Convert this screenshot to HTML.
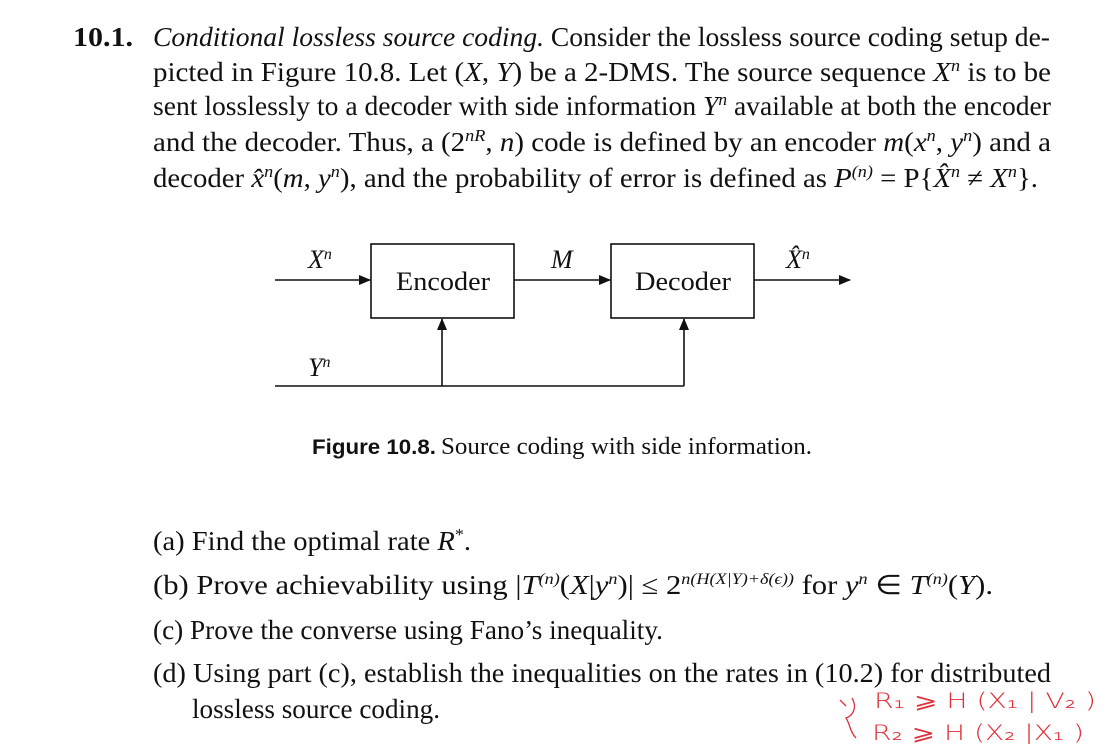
<!DOCTYPE html>
<html><head><meta charset="utf-8"><style>
html,body{margin:0;padding:0;background:#fff;}
svg{display:block;}
text{font-family:"Liberation Serif",serif;fill:#111;}
.s{font-family:"Liberation Sans",sans-serif;font-weight:bold;}
.i{font-style:italic;}
.h{font-family:"DejaVu Sans",sans-serif;fill:#e0303a;font-weight:200;}
</style></head><body>
<svg width="1116" height="744" viewBox="0 0 1116 744" xmlns="http://www.w3.org/2000/svg">
<defs><marker id="a" markerWidth="12" markerHeight="10" refX="11" refY="5" orient="auto" markerUnits="userSpaceOnUse"><path d="M0,0 L12,5 L0,10 z" fill="#111"/></marker></defs>
<g font-size="27">
<text x="73" y="46" font-weight="bold" textLength="60" lengthAdjust="spacingAndGlyphs">10.1.</text>
<text x="153" y="46" textLength="897" lengthAdjust="spacingAndGlyphs"><tspan class="i">Conditional lossless source coding.</tspan> Consider the lossless source coding setup de-</text>
<text x="153" y="81" textLength="898" lengthAdjust="spacingAndGlyphs">picted in Figure 10.8. Let (<tspan class="i">X</tspan>, <tspan class="i">Y</tspan>) be a 2-DMS. The source sequence <tspan class="i">X</tspan><tspan class="i" font-size="17" dy="-10">n</tspan><tspan dy="10"> is to be</tspan></text>
<text x="153" y="115" textLength="898" lengthAdjust="spacingAndGlyphs">sent losslessly to a decoder with side information <tspan class="i">Y</tspan><tspan class="i" font-size="17" dy="-10">n</tspan><tspan dy="10"> available at both the encoder</tspan></text>
<text x="153" y="151" textLength="898" lengthAdjust="spacingAndGlyphs">and the decoder. Thus, a (2<tspan class="i" font-size="17" dy="-10">nR</tspan><tspan dy="10">, </tspan><tspan class="i">n</tspan>) code is defined by an encoder <tspan class="i">m</tspan>(<tspan class="i">x</tspan><tspan class="i" font-size="17" dy="-10">n</tspan><tspan dy="10">, </tspan><tspan class="i">y</tspan><tspan class="i" font-size="17" dy="-10">n</tspan><tspan dy="10">) and a</tspan></text>
<text x="153" y="187" textLength="885" lengthAdjust="spacingAndGlyphs">decoder <tspan class="i">x̂</tspan><tspan class="i" font-size="17" dy="-10">n</tspan><tspan dy="10">(</tspan><tspan class="i">m</tspan>, <tspan class="i">y</tspan><tspan class="i" font-size="17" dy="-10">n</tspan><tspan dy="10">), and the probability of error is defined as </tspan><tspan class="i">P</tspan><tspan class="i" font-size="17" dy="-10">(n)</tspan><tspan dy="10"> = P{</tspan><tspan class="i">X̂</tspan><tspan class="i" font-size="17" dy="-10">n</tspan><tspan dy="10"> ≠ </tspan><tspan class="i">X</tspan><tspan class="i" font-size="17" dy="-10">n</tspan><tspan dy="10">}.</tspan></text>
</g>
<g stroke="#111" stroke-width="1.6" fill="none">
<rect x="371" y="244" width="143" height="74"/>
<rect x="611" y="244" width="143" height="74"/>
<line x1="275" y1="280" x2="370" y2="280" marker-end="url(#a)"/>
<line x1="514" y1="280" x2="610" y2="280" marker-end="url(#a)"/>
<line x1="754" y1="280" x2="850" y2="280" marker-end="url(#a)"/>
<line x1="275" y1="386" x2="684" y2="386"/>
<line x1="442" y1="386" x2="442" y2="319" marker-end="url(#a)"/>
<line x1="684" y1="386" x2="684" y2="319" marker-end="url(#a)"/>
</g>
<g font-size="26">
<text x="396" y="290" textLength="94" lengthAdjust="spacingAndGlyphs">Encoder</text>
<text x="635" y="290" textLength="96" lengthAdjust="spacingAndGlyphs">Decoder</text>
<text x="308" y="268" class="i">X<tspan font-size="16" dy="-9">n</tspan></text>
<text x="551" y="268" class="i">M</text>
<text x="786" y="268" class="i">X̂<tspan font-size="16" dy="-9">n</tspan></text>
<text x="308" y="376" class="i">Y<tspan font-size="16" dy="-9">n</tspan></text>
</g>
<text x="312" y="454" font-size="21" class="s" textLength="124" lengthAdjust="spacingAndGlyphs">Figure 10.8.</text>
<text x="441" y="454" font-size="24" textLength="371" lengthAdjust="spacingAndGlyphs">Source coding with side information.</text>
<g font-size="27">
<text x="153" y="550" textLength="318" lengthAdjust="spacingAndGlyphs">(a) Find the optimal rate <tspan class="i">R</tspan><tspan font-size="17" dy="-10">*</tspan><tspan dy="10">.</tspan></text>
<text x="153" y="594" textLength="840" lengthAdjust="spacingAndGlyphs">(b) Prove achievability using |<tspan class="i">T</tspan><tspan class="i" font-size="16" dy="-10">(n)</tspan><tspan dy="10">(</tspan><tspan class="i">X</tspan>|<tspan class="i">y</tspan><tspan class="i" font-size="16" dy="-10">n</tspan><tspan dy="10">)| ≤ 2</tspan><tspan class="i" font-size="16" dy="-10">n(H(X|Y)+δ(ϵ))</tspan><tspan dy="10"> for </tspan><tspan class="i">y</tspan><tspan class="i" font-size="16" dy="-10">n</tspan><tspan dy="10"> ∈ </tspan><tspan class="i">T</tspan><tspan class="i" font-size="16" dy="-10">(n)</tspan><tspan dy="10">(</tspan><tspan class="i">Y</tspan>).</text>
<text x="153" y="639" textLength="510" lengthAdjust="spacingAndGlyphs">(c) Prove the converse using Fano’s inequality.</text>
<text x="153" y="682" textLength="898" lengthAdjust="spacingAndGlyphs">(d) Using part (c), establish the inequalities on the rates in (10.2) for distributed</text>
<text x="192" y="718" textLength="248" lengthAdjust="spacingAndGlyphs">lossless source coding.</text>
</g>
<g stroke="#e0303a" stroke-width="1.3" fill="none">
<path d="M840,700 L846,706 M852,698 C858,708 852,716 846,718 C850,724 850,732 856,738"/>
</g>
<text x="874" y="708" font-size="21" class="h" textLength="222" lengthAdjust="spacingAndGlyphs">R₁ ⩾ H (X₁ | V₂ )</text>
<text x="872" y="740" font-size="21" class="h" textLength="212" lengthAdjust="spacingAndGlyphs">R₂ ⩾ H (X₂ |X₁ )</text>
</svg>
</body></html>
